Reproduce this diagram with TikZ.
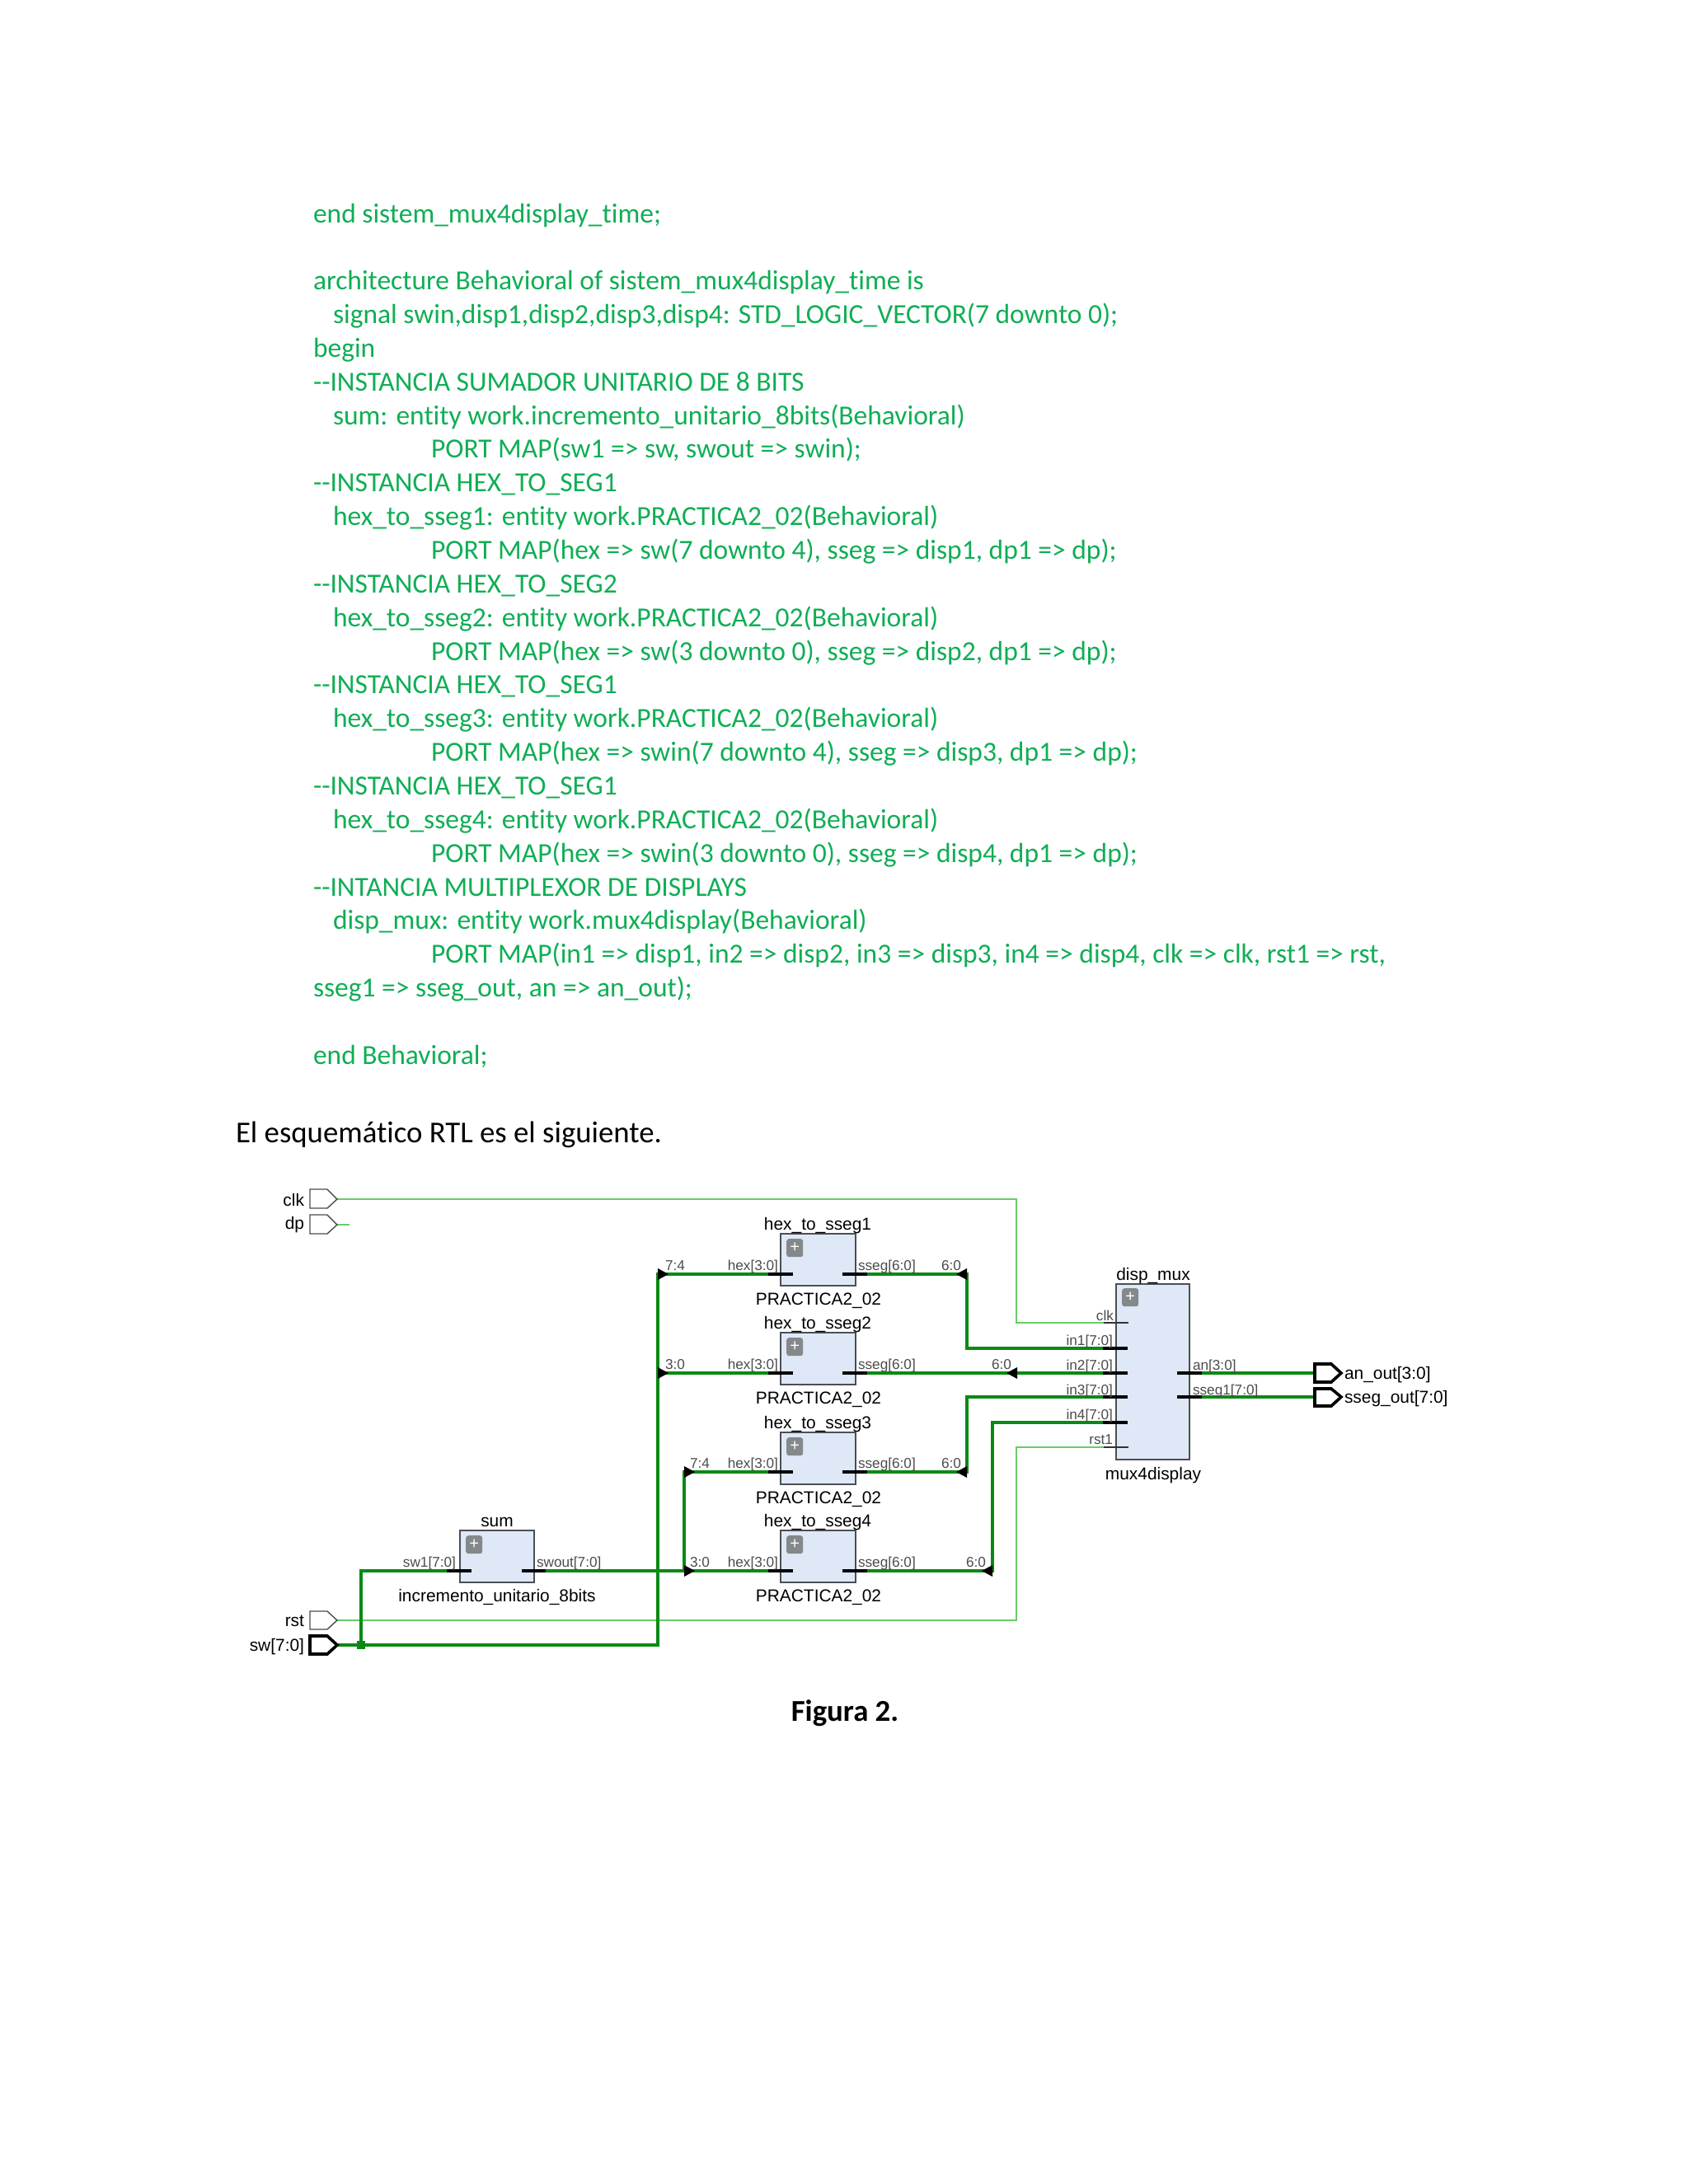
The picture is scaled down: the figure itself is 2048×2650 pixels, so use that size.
\documentclass[tikz,border=0pt]{standalone}
\usepackage{fontspec}
\setmainfont{Carlito}[Ligatures=NoCommon]
\newfontfamily\arialf{Liberation Sans}
\usetikzlibrary{calc}
\definecolor{codegreen}{HTML}{10AE55}
\definecolor{busgreen}{HTML}{0A8A14}
\definecolor{netgreen}{HTML}{68CC68}
\definecolor{blockfill}{HTML}{DFE8F7}
\definecolor{blockedge}{HTML}{4A4F55}
\definecolor{plusgray}{HTML}{85888A}
\tikzset{
  x=1pt,y=-1pt,
  codetext/.style={anchor=base west,inner sep=0pt,outer sep=0pt,text=codegreen,font=\fontsize{33.5}{40}\selectfont},
  bodytext/.style={anchor=base west,inner sep=0pt,outer sep=0pt,text=black,font=\fontsize{36.8}{40}\selectfont},
  captiontext/.style={anchor=base,inner sep=0pt,outer sep=0pt,text=black,font=\fontsize{36.8}{40}\selectfont\bfseries},
  block/.style={draw=blockedge,line width=1.5pt,fill=blockfill,inner sep=0pt,outer sep=0pt,anchor=north west},
  plusbtn/.style={draw=none,fill=plusgray,rounded corners=3pt,inner sep=0pt,minimum width=20pt,minimum height=22pt,anchor=north west,text=white,font=\arialf\fontsize{20}{20}\selectfont},
  namelabel/.style={anchor=base,inner sep=0pt,outer sep=0pt,text=black,font=\arialf\fontsize{20.9}{22}\selectfont},
  portname/.style={anchor=base east,inner sep=0pt,outer sep=0pt,text=black,font=\arialf\fontsize{20.9}{22}\selectfont},
  outname/.style={anchor=base west,inner sep=0pt,outer sep=0pt,text=black,font=\arialf\fontsize{20.9}{22}\selectfont},
  pinlabelr/.style={anchor=base east,inner sep=0pt,outer sep=0pt,text=black!70,font=\arialf\fontsize{17.2}{18}\selectfont},
  pinlabell/.style={anchor=base west,inner sep=0pt,outer sep=0pt,text=black!70,font=\arialf\fontsize{17.2}{18}\selectfont},
  busw/.style={draw=busgreen,line width=3.6pt,line join=miter},
  netw/.style={draw=netgreen,line width=1.8pt,line join=miter},
  pinbus/.style={draw=black,line width=3.6pt},
  pinnet/.style={draw=black!80,line width=1.2pt},
  portthin/.style={draw=black!70,line width=1.4pt,fill=white,line join=miter},
  portthick/.style={draw=black,line width=3.6pt,fill=white,line join=miter},
  tri/.style={fill=black,draw=none},
}
% \codeline{line number}{x}{text}
\newcommand{\codeline}[3]{\node[codetext] (code#1) at (#2,{270+40.85*#1}) {#3};}
% \portbox{style}{left}{tip}{top}{bottom}{mid}
\newcommand{\portbox}[6]{\draw[#1] (#2,#4) -- ({#3-12},#4) -- (#3,#6) -- ({#3-12},#5) -- (#2,#5) -- cycle;}
% \arrowR{x}{y}, \arrowL{x}{y}
\newcommand{\arrowR}[2]{\fill[tri] (#1,{#2-7}) -- ({#1+13},#2) -- (#1,{#2+7}) -- cycle;}
\newcommand{\arrowL}[2]{\fill[tri] (#1,{#2-7}) -- ({#1-13},#2) -- (#1,{#2+7}) -- cycle;}
\begin{document}
\begin{tikzpicture}
\useasboundingbox[fill=white] (0,0) rectangle (2048,2650);

% ---------- code ----------
\codeline{0}{380}{end sistem\_mux4display\_time;}
\codeline{2}{380}{architecture Behavioral of sistem\_mux4display\_time is}
\codeline{3}{404}{signal swin,disp1,disp2,disp3,disp4: STD\_LOGIC\_VECTOR(7 downto 0);}
\codeline{4}{380}{begin}
\codeline{5}{380}{{-}{-}INSTANCIA SUMADOR UNITARIO DE 8 BITS}
\codeline{6}{404}{sum: entity work.incremento\_unitario\_8bits(Behavioral)}
\codeline{7}{523}{PORT MAP(sw1 => sw, swout => swin);}
\codeline{8}{380}{{-}{-}INSTANCIA HEX\_TO\_SEG1}
\codeline{9}{404}{hex\_to\_sseg1: entity work.PRACTICA2\_02(Behavioral)}
\codeline{10}{523}{PORT MAP(hex => sw(7 downto 4), sseg => disp1, dp1 => dp);}
\codeline{11}{380}{{-}{-}INSTANCIA HEX\_TO\_SEG2}
\codeline{12}{404}{hex\_to\_sseg2: entity work.PRACTICA2\_02(Behavioral)}
\codeline{13}{523}{PORT MAP(hex => sw(3 downto 0), sseg => disp2, dp1 => dp);}
\codeline{14}{380}{{-}{-}INSTANCIA HEX\_TO\_SEG1}
\codeline{15}{404}{hex\_to\_sseg3: entity work.PRACTICA2\_02(Behavioral)}
\codeline{16}{523}{PORT MAP(hex => swin(7 downto 4), sseg => disp3, dp1 => dp);}
\codeline{17}{380}{{-}{-}INSTANCIA HEX\_TO\_SEG1}
\codeline{18}{404}{hex\_to\_sseg4: entity work.PRACTICA2\_02(Behavioral)}
\codeline{19}{523}{PORT MAP(hex => swin(3 downto 0), sseg => disp4, dp1 => dp);}
\codeline{20}{380}{{-}{-}INTANCIA MULTIPLEXOR DE DISPLAYS}
\codeline{21}{404}{disp\_mux: entity work.mux4display(Behavioral)}
\codeline{22}{523}{PORT MAP(in1 => disp1, in2 => disp2, in3 => disp3, in4 => disp4, clk => clk, rst1 => rst,}
\codeline{23}{380}{sseg1 => sseg\_out, an => an\_out);}
\codeline{25}{380}{end Behavioral;}
\node[bodytext] (intro) at (286,1386) {El esquemático RTL es el siguiente.};
\node[captiontext] (caption) at (1025,2088) {Figura 2.};

% ---------- wire anchors ----------
\coordinate (clkout) at (409,1455);
\coordinate (dpout) at (409,1486);
\coordinate (dpend) at (424,1486);
\coordinate (rstout) at (409,1966);
\coordinate (swout) at (409,1996);
\coordinate (junc) at (438,1996);
\coordinate (sumin) at (542,1906);
\coordinate (sumout) at (662,1906);
\coordinate (busa) at (798,1546);
\coordinate (busb) at (798,1666);
\coordinate (busc) at (830,1786);
\coordinate (busd) at (830,1906);
\coordinate (hexina) at (932,1546);
\coordinate (hexinb) at (932,1666);
\coordinate (hexinc) at (932,1786);
\coordinate (hexind) at (932,1906);
\coordinate (sega) at (1052,1546);
\coordinate (segb) at (1052,1666);
\coordinate (segc) at (1052,1786);
\coordinate (segd) at (1052,1906);
\coordinate (clkin) at (1339,1605);
\coordinate (ina) at (1338,1636);
\coordinate (inb) at (1338,1666);
\coordinate (inc) at (1338,1695);
\coordinate (ind) at (1338,1726);
\coordinate (rstin) at (1339,1756);
\coordinate (anpin) at (1458,1666);
\coordinate (ssegpin) at (1458,1695);
\coordinate (anport) at (1595,1666);
\coordinate (ssegport) at (1595,1695);

% ---------- thin nets ----------
\draw[netw] (clkout) -- (1233,1455) |- (clkin);
\draw[netw] (dpout) -- (dpend);
\draw[netw] (rstout) -- (1233,1966) |- (rstin);

% ---------- buses ----------
\draw[busw] (swout) -- (798,1996) -- (busa) -- (hexina);
\draw[busw] (busb) -- (hexinb);
\draw[busw] (junc) -- (438,1906) -- (sumin);
\draw[busw] (sumout) -- (hexind);
\draw[busw] (busd) -- (busc) -- (hexinc);
\draw[busw] (sega) -- (1173,1546) |- (ina);
\draw[busw] (segb) -- (inb);
\draw[busw] (segc) -- (1173,1786) |- (inc);
\draw[busw] (segd) -- (1204,1906) |- (ind);
\draw[busw] (anpin) -- (anport);
\draw[busw] (ssegpin) -- (ssegport);
\fill[busgreen] ($(junc)+(-5,-5)$) rectangle ($(junc)+(5,5)$);

% ---------- ripper arrows ----------
\arrowR{798}{1546}
\arrowR{798}{1666}
\arrowR{830}{1786}
\arrowR{830}{1906}
\arrowL{1173}{1546}
\arrowL{1234}{1666}
\arrowL{1173}{1786}
\arrowL{1204}{1906}

% ---------- ports ----------
\portbox{portthin}{376}{409}{1443}{1466}{1455}
\portbox{portthin}{376}{409}{1474}{1497}{1486}
\portbox{portthin}{376}{409}{1955}{1977}{1966}
\portbox{portthick}{376}{409}{1985}{2007}{1996}
\portbox{portthick}{1595}{1627}{1655}{1677}{1666}
\portbox{portthick}{1595}{1627}{1685}{1706}{1695}
\node[portname] (clkname) at (369,1463) {clk};
\node[portname] (dpname) at (369,1491) {dp};
\node[portname] (rstname) at (369,1973) {rst};
\node[portname] (swname) at (369,2003) {sw[7:0]};
\node[outname] (anname) at (1631,1673) {an\_out[3:0]};
\node[outname] (ssegname) at (1631,1702) {sseg\_out[7:0]};

% ---------- blocks ----------
\node[block,minimum width=90pt,minimum height=63pt] (sum) at (558,1857) {};
\node[block,minimum width=91pt,minimum height=63pt] (hexa) at (947,1497) {};
\node[block,minimum width=91pt,minimum height=63pt] (hexb) at (947,1617) {};
\node[block,minimum width=91pt,minimum height=63pt] (hexc) at (947,1738) {};
\node[block,minimum width=91pt,minimum height=63pt] (hexd) at (947,1857) {};
\node[block,minimum width=89pt,minimum height=213pt] (mux) at (1354,1558) {};

\node[plusbtn] (plussum) at (565,1863) {+};
\node[plusbtn] (plusa) at (954,1503) {+};
\node[plusbtn] (plusb) at (954,1623) {+};
\node[plusbtn] (plusc) at (954,1744) {+};
\node[plusbtn] (plusd) at (954,1863) {+};
\node[plusbtn] (plusm) at (1361,1563) {+};

% ---------- pins ----------
\draw[pinbus] (sumin) -- (572,1906);
\draw[pinbus] (633,1906) -- (sumout);
\draw[pinbus] (hexina) -- (962,1546);
\draw[pinbus] (hexinb) -- (962,1666);
\draw[pinbus] (hexinc) -- (962,1786);
\draw[pinbus] (hexind) -- (962,1906);
\draw[pinbus] (1022,1546) -- (sega);
\draw[pinbus] (1022,1666) -- (segb);
\draw[pinbus] (1022,1786) -- (segc);
\draw[pinbus] (1022,1906) -- (segd);
\draw[pinnet] (clkin) -- (1369,1605);
\draw[pinbus] (ina) -- (1368,1636);
\draw[pinbus] (inb) -- (1368,1666);
\draw[pinbus] (inc) -- (1368,1695);
\draw[pinbus] (ind) -- (1368,1726);
\draw[pinnet] (rstin) -- (1369,1756);
\draw[pinbus] (1428,1666) -- (anpin);
\draw[pinbus] (1428,1695) -- (ssegpin);

% ---------- block names ----------
\node[namelabel] (sumtop) at (603,1852) {sum};
\node[namelabel] (hexatop) at (992,1492) {hex\_to\_sseg1};
\node[namelabel] (hexbtop) at (992,1612) {hex\_to\_sseg2};
\node[namelabel] (hexctop) at (992,1733) {hex\_to\_sseg3};
\node[namelabel] (hexdtop) at (992,1852) {hex\_to\_sseg4};
\node[namelabel] (muxtop) at (1399,1553) {disp\_mux};
\node[namelabel] (sumbot) at (603,1943) {incremento\_unitario\_8bits};
\node[namelabel] (hexabot) at (993,1583) {PRACTICA2\_02};
\node[namelabel] (hexbbot) at (993,1703) {PRACTICA2\_02};
\node[namelabel] (hexcbot) at (993,1824) {PRACTICA2\_02};
\node[namelabel] (hexdbot) at (993,1943) {PRACTICA2\_02};
\node[namelabel] (muxbot) at (1399,1795) {mux4display};

% ---------- pin labels ----------
\node[pinlabelr] (lsw1) at (553,1901) {sw1[7:0]};
\node[pinlabell] (lswout) at (651,1901) {swout[7:0]};
\node[pinlabelr] (lhexa) at (944,1541) {hex[3:0]};
\node[pinlabelr] (lhexb) at (944,1661) {hex[3:0]};
\node[pinlabelr] (lhexc) at (944,1781) {hex[3:0]};
\node[pinlabelr] (lhexd) at (944,1901) {hex[3:0]};
\node[pinlabell] (lsega) at (1041,1541) {sseg[6:0]};
\node[pinlabell] (lsegb) at (1041,1661) {sseg[6:0]};
\node[pinlabell] (lsegc) at (1041,1781) {sseg[6:0]};
\node[pinlabell] (lsegd) at (1041,1901) {sseg[6:0]};
\node[pinlabell] (ra) at (807,1541) {7:4};
\node[pinlabell] (rb) at (807,1661) {3:0};
\node[pinlabell] (rc) at (837,1781) {7:4};
\node[pinlabell] (rd) at (837,1901) {3:0};
\node[pinlabelr] (re) at (1166,1541) {6:0};
\node[pinlabelr] (rf) at (1227,1661) {6:0};
\node[pinlabelr] (rg) at (1166,1781) {6:0};
\node[pinlabelr] (rh) at (1196,1901) {6:0};
\node[pinlabelr] (lclk) at (1351,1602) {clk};
\node[pinlabelr] (lin1) at (1350,1632) {in1[7:0]};
\node[pinlabelr] (lin2) at (1350,1662) {in2[7:0]};
\node[pinlabelr] (lin3) at (1350,1692) {in3[7:0]};
\node[pinlabelr] (lin4) at (1350,1722) {in4[7:0]};
\node[pinlabelr] (lrst) at (1350,1752) {rst1};
\node[pinlabell] (lan) at (1447,1662) {an[3:0]};
\node[pinlabell] (lsseg) at (1447,1692) {sseg1[7:0]};
\end{tikzpicture}
\end{document}
